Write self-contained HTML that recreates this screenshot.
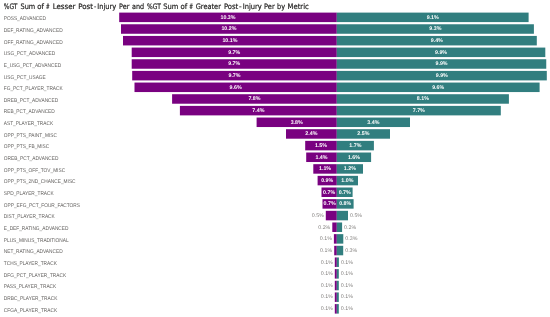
<!DOCTYPE html>
<html><head><meta charset="utf-8"><style>
html,body{margin:0;padding:0;background:#fff;width:550px;height:317px;overflow:hidden}
svg{display:block;text-rendering:geometricPrecision}

.t{font-family:"DejaVu Sans",sans-serif;fill:#252423;stroke:#252423;stroke-width:0.2}
.c{font-family:"Liberation Sans",sans-serif;fill:#605e5c}
.d{font-family:"Liberation Sans",sans-serif;font-weight:bold;fill:#fff}
.o{font-family:"Liberation Sans",sans-serif;fill:#807e7c}
</style></head><body><div>
<svg width="550" height="317" viewBox="0 0 550 317">
<g class="t" font-size="7.5"><text x="3.80" y="9.1" textLength="13.70" lengthAdjust="spacingAndGlyphs">%GT</text><text x="20.50" y="9.1" textLength="14.70" lengthAdjust="spacingAndGlyphs">Sum</text><text x="37.30" y="9.1" textLength="6.70" lengthAdjust="spacingAndGlyphs">of</text><text x="46.10" y="9.1" textLength="3.60" lengthAdjust="spacingAndGlyphs">#</text><text x="52.70" y="9.1" textLength="22.70" lengthAdjust="spacingAndGlyphs">Lesser</text><text x="78.30" y="9.1" textLength="14.70" lengthAdjust="spacingAndGlyphs">Post</text><text x="94.00" y="9.1" textLength="2.30" lengthAdjust="spacingAndGlyphs">-</text><text x="97.20" y="9.1" textLength="19.00" lengthAdjust="spacingAndGlyphs">Injury</text><text x="119.00" y="9.1" textLength="10.30" lengthAdjust="spacingAndGlyphs">Per</text><text x="132.00" y="9.1" textLength="12.20" lengthAdjust="spacingAndGlyphs">and</text><text x="147.00" y="9.1" textLength="13.90" lengthAdjust="spacingAndGlyphs">%GT</text><text x="163.30" y="9.1" textLength="15.10" lengthAdjust="spacingAndGlyphs">Sum</text><text x="180.60" y="9.1" textLength="6.70" lengthAdjust="spacingAndGlyphs">of</text><text x="189.30" y="9.1" textLength="3.80" lengthAdjust="spacingAndGlyphs">#</text><text x="195.70" y="9.1" textLength="25.20" lengthAdjust="spacingAndGlyphs">Greater</text><text x="223.90" y="9.1" textLength="14.30" lengthAdjust="spacingAndGlyphs">Post</text><text x="239.10" y="9.1" textLength="2.60" lengthAdjust="spacingAndGlyphs">-</text><text x="242.70" y="9.1" textLength="19.10" lengthAdjust="spacingAndGlyphs">Injury</text><text x="264.10" y="9.1" textLength="10.50" lengthAdjust="spacingAndGlyphs">Per</text><text x="277.00" y="9.1" textLength="8.00" lengthAdjust="spacingAndGlyphs">by</text><text x="287.60" y="9.1" textLength="21.20" lengthAdjust="spacingAndGlyphs">Metric</text></g>
<text class="c" transform="translate(3.8,20.20) scale(0.887,1)" font-size="5.4">POSS_ADVANCED</text>
<rect x="119.20" y="12.60" width="217.60" height="9.5" fill="#790180"/>
<rect x="336.80" y="12.60" width="191.80" height="9.5" fill="#317e7f"/>
<text class="d" x="228.00" y="18.65" font-size="5.3" text-anchor="middle">10.3%</text>
<text class="d" x="432.70" y="18.65" font-size="5.3" text-anchor="middle">9.1%</text>
<text class="c" transform="translate(3.8,31.86) scale(0.887,1)" font-size="5.4">DEF_RATING_ADVANCED</text>
<rect x="121.00" y="24.26" width="215.80" height="9.5" fill="#790180"/>
<rect x="336.80" y="24.26" width="197.10" height="9.5" fill="#317e7f"/>
<text class="d" x="228.90" y="30.31" font-size="5.3" text-anchor="middle">10.2%</text>
<text class="d" x="435.35" y="30.31" font-size="5.3" text-anchor="middle">9.3%</text>
<text class="c" transform="translate(3.8,43.52) scale(0.887,1)" font-size="5.4">OFF_RATING_ADVANCED</text>
<rect x="123.00" y="35.92" width="213.80" height="9.5" fill="#790180"/>
<rect x="336.80" y="35.92" width="200.00" height="9.5" fill="#317e7f"/>
<text class="d" x="229.90" y="41.97" font-size="5.3" text-anchor="middle">10.1%</text>
<text class="d" x="436.80" y="41.97" font-size="5.3" text-anchor="middle">9.4%</text>
<text class="c" transform="translate(3.8,55.18) scale(0.887,1)" font-size="5.4">USG_PCT_ADVANCED</text>
<rect x="131.70" y="47.58" width="205.10" height="9.5" fill="#790180"/>
<rect x="336.80" y="47.58" width="208.50" height="9.5" fill="#317e7f"/>
<text class="d" x="234.25" y="53.63" font-size="5.3" text-anchor="middle">9.7%</text>
<text class="d" x="441.05" y="53.63" font-size="5.3" text-anchor="middle">9.9%</text>
<text class="c" transform="translate(3.8,66.84) scale(0.887,1)" font-size="5.4">E_USG_PCT_ADVANCED</text>
<rect x="131.70" y="59.24" width="205.10" height="9.5" fill="#790180"/>
<rect x="336.80" y="59.24" width="209.45" height="9.5" fill="#317e7f"/>
<text class="d" x="234.25" y="65.29" font-size="5.3" text-anchor="middle">9.7%</text>
<text class="d" x="441.52" y="65.29" font-size="5.3" text-anchor="middle">9.9%</text>
<text class="c" transform="translate(3.8,78.50) scale(0.887,1)" font-size="5.4">USG_PCT_USAGE</text>
<rect x="132.20" y="70.90" width="204.60" height="9.5" fill="#790180"/>
<rect x="336.80" y="70.90" width="210.00" height="9.5" fill="#317e7f"/>
<text class="d" x="234.50" y="76.95" font-size="5.3" text-anchor="middle">9.7%</text>
<text class="d" x="441.80" y="76.95" font-size="5.3" text-anchor="middle">9.9%</text>
<text class="c" transform="translate(3.8,90.16) scale(0.887,1)" font-size="5.4">FG_PCT_PLAYER_TRACK</text>
<rect x="134.50" y="82.56" width="202.30" height="9.5" fill="#790180"/>
<rect x="336.80" y="82.56" width="202.80" height="9.5" fill="#317e7f"/>
<text class="d" x="235.65" y="88.61" font-size="5.3" text-anchor="middle">9.6%</text>
<text class="d" x="438.20" y="88.61" font-size="5.3" text-anchor="middle">9.6%</text>
<text class="c" transform="translate(3.8,101.82) scale(0.887,1)" font-size="5.4">DREB_PCT_ADVANCED</text>
<rect x="172.10" y="94.22" width="164.70" height="9.5" fill="#790180"/>
<rect x="336.80" y="94.22" width="172.10" height="9.5" fill="#317e7f"/>
<text class="d" x="254.45" y="100.27" font-size="5.3" text-anchor="middle">7.8%</text>
<text class="d" x="422.85" y="100.27" font-size="5.3" text-anchor="middle">8.1%</text>
<text class="c" transform="translate(3.8,113.48) scale(0.887,1)" font-size="5.4">REB_PCT_ADVANCED</text>
<rect x="179.90" y="105.88" width="156.90" height="9.5" fill="#790180"/>
<rect x="336.80" y="105.88" width="164.00" height="9.5" fill="#317e7f"/>
<text class="d" x="258.35" y="111.93" font-size="5.3" text-anchor="middle">7.4%</text>
<text class="d" x="418.80" y="111.93" font-size="5.3" text-anchor="middle">7.7%</text>
<text class="c" transform="translate(3.8,125.14) scale(0.887,1)" font-size="5.4">AST_PLAYER_TRACK</text>
<rect x="256.60" y="117.54" width="80.20" height="9.5" fill="#790180"/>
<rect x="336.80" y="117.54" width="73.20" height="9.5" fill="#317e7f"/>
<text class="d" x="296.70" y="123.59" font-size="5.3" text-anchor="middle">3.8%</text>
<text class="d" x="373.40" y="123.59" font-size="5.3" text-anchor="middle">3.4%</text>
<text class="c" transform="translate(3.8,136.80) scale(0.887,1)" font-size="5.4">OPP_PTS_PAINT_MISC</text>
<rect x="286.00" y="129.20" width="50.80" height="9.5" fill="#790180"/>
<rect x="336.80" y="129.20" width="53.20" height="9.5" fill="#317e7f"/>
<text class="d" x="311.40" y="135.25" font-size="5.3" text-anchor="middle">2.4%</text>
<text class="d" x="363.40" y="135.25" font-size="5.3" text-anchor="middle">2.5%</text>
<text class="c" transform="translate(3.8,148.46) scale(0.887,1)" font-size="5.4">OPP_PTS_FB_MISC</text>
<rect x="305.20" y="140.86" width="31.60" height="9.5" fill="#790180"/>
<rect x="336.80" y="140.86" width="37.10" height="9.5" fill="#317e7f"/>
<text class="d" x="321.00" y="146.91" font-size="5.3" text-anchor="middle">1.5%</text>
<text class="d" x="355.35" y="146.91" font-size="5.3" text-anchor="middle">1.7%</text>
<text class="c" transform="translate(3.8,160.12) scale(0.887,1)" font-size="5.4">OREB_PCT_ADVANCED</text>
<rect x="306.20" y="152.52" width="30.60" height="9.5" fill="#790180"/>
<rect x="336.80" y="152.52" width="34.30" height="9.5" fill="#317e7f"/>
<text class="d" x="321.50" y="158.57" font-size="5.3" text-anchor="middle">1.4%</text>
<text class="d" x="353.95" y="158.57" font-size="5.3" text-anchor="middle">1.6%</text>
<text class="c" transform="translate(3.8,171.78) scale(0.887,1)" font-size="5.4">OPP_PTS_OFF_TOV_MISC</text>
<rect x="313.30" y="164.18" width="23.50" height="9.5" fill="#790180"/>
<rect x="336.80" y="164.18" width="26.20" height="9.5" fill="#317e7f"/>
<text class="d" x="325.05" y="170.23" font-size="5.3" text-anchor="middle">1.1%</text>
<text class="d" x="349.90" y="170.23" font-size="5.3" text-anchor="middle">1.2%</text>
<text class="c" transform="translate(3.8,183.44) scale(0.887,1)" font-size="5.4">OPP_PTS_2ND_CHANCE_MISC</text>
<rect x="317.60" y="175.84" width="19.20" height="9.5" fill="#790180"/>
<rect x="336.80" y="175.84" width="21.20" height="9.5" fill="#317e7f"/>
<text class="d" x="327.20" y="181.89" font-size="5.3" text-anchor="middle">0.9%</text>
<text class="d" x="347.40" y="181.89" font-size="5.3" text-anchor="middle">1.0%</text>
<text class="c" transform="translate(3.8,195.10) scale(0.887,1)" font-size="5.4">SPD_PLAYER_TRACK</text>
<rect x="321.50" y="187.50" width="15.30" height="9.5" fill="#790180"/>
<rect x="336.80" y="187.50" width="15.80" height="9.5" fill="#317e7f"/>
<text class="d" x="329.15" y="193.55" font-size="5.3" text-anchor="middle">0.7%</text>
<text class="d" x="344.70" y="193.55" font-size="5.3" text-anchor="middle">0.7%</text>
<text class="c" transform="translate(3.8,206.76) scale(0.887,1)" font-size="5.4">OPP_EFG_PCT_FOUR_FACTORS</text>
<rect x="322.50" y="199.16" width="14.30" height="9.5" fill="#790180"/>
<rect x="336.80" y="199.16" width="16.80" height="9.5" fill="#317e7f"/>
<text class="d" x="329.65" y="205.21" font-size="5.3" text-anchor="middle">0.7%</text>
<text class="d" x="345.20" y="205.21" font-size="5.3" text-anchor="middle">0.8%</text>
<text class="c" transform="translate(3.8,218.42) scale(0.887,1)" font-size="5.4">DIST_PLAYER_TRACK</text>
<rect x="325.80" y="210.82" width="11.00" height="9.5" fill="#790180"/>
<rect x="336.80" y="210.82" width="11.20" height="9.5" fill="#317e7f"/>
<text class="o" x="323.80" y="216.87" font-size="5.3" text-anchor="end">0.5%</text>
<text class="o" x="350.00" y="216.87" font-size="5.3">0.5%</text>
<text class="c" transform="translate(3.8,230.08) scale(0.887,1)" font-size="5.4">E_DEF_RATING_ADVANCED</text>
<rect x="332.30" y="222.48" width="4.50" height="9.5" fill="#790180"/>
<rect x="336.80" y="222.48" width="5.30" height="9.5" fill="#317e7f"/>
<text class="o" x="330.30" y="228.53" font-size="5.3" text-anchor="end">0.2%</text>
<text class="o" x="344.10" y="228.53" font-size="5.3">0.2%</text>
<text class="c" transform="translate(3.8,241.74) scale(0.887,1)" font-size="5.4">PLUS_MINUS_TRADITIONAL</text>
<rect x="333.90" y="234.14" width="2.90" height="9.5" fill="#790180"/>
<rect x="336.80" y="234.14" width="6.50" height="9.5" fill="#317e7f"/>
<text class="o" x="331.90" y="240.19" font-size="5.3" text-anchor="end">0.1%</text>
<text class="o" x="345.30" y="240.19" font-size="5.3">0.3%</text>
<text class="c" transform="translate(3.8,253.40) scale(0.887,1)" font-size="5.4">NET_RATING_ADVANCED</text>
<rect x="334.20" y="245.80" width="2.60" height="9.5" fill="#790180"/>
<rect x="336.80" y="245.80" width="6.40" height="9.5" fill="#317e7f"/>
<text class="o" x="332.20" y="251.85" font-size="5.3" text-anchor="end">0.1%</text>
<text class="o" x="345.20" y="251.85" font-size="5.3">0.3%</text>
<text class="c" transform="translate(3.8,265.06) scale(0.887,1)" font-size="5.4">TCHS_PLAYER_TRACK</text>
<rect x="334.80" y="257.46" width="2.00" height="9.5" fill="#790180"/>
<rect x="336.80" y="257.46" width="2.10" height="9.5" fill="#317e7f"/>
<text class="o" x="332.80" y="263.51" font-size="5.3" text-anchor="end">0.1%</text>
<text class="o" x="340.90" y="263.51" font-size="5.3">0.1%</text>
<text class="c" transform="translate(3.8,276.72) scale(0.887,1)" font-size="5.4">DFG_PCT_PLAYER_TRACK</text>
<rect x="334.80" y="269.12" width="2.00" height="9.5" fill="#790180"/>
<rect x="336.80" y="269.12" width="2.00" height="9.5" fill="#317e7f"/>
<text class="o" x="332.80" y="275.17" font-size="5.3" text-anchor="end">0.1%</text>
<text class="o" x="340.80" y="275.17" font-size="5.3">0.1%</text>
<text class="c" transform="translate(3.8,288.38) scale(0.887,1)" font-size="5.4">PASS_PLAYER_TRACK</text>
<rect x="334.80" y="280.78" width="2.00" height="9.5" fill="#790180"/>
<rect x="336.80" y="280.78" width="2.00" height="9.5" fill="#317e7f"/>
<text class="o" x="332.80" y="286.83" font-size="5.3" text-anchor="end">0.1%</text>
<text class="o" x="340.80" y="286.83" font-size="5.3">0.1%</text>
<text class="c" transform="translate(3.8,300.04) scale(0.887,1)" font-size="5.4">DRBC_PLAYER_TRACK</text>
<rect x="334.80" y="292.44" width="2.00" height="9.5" fill="#790180"/>
<rect x="336.80" y="292.44" width="2.00" height="9.5" fill="#317e7f"/>
<text class="o" x="332.80" y="298.49" font-size="5.3" text-anchor="end">0.1%</text>
<text class="o" x="340.80" y="298.49" font-size="5.3">0.1%</text>
<text class="c" transform="translate(3.8,311.70) scale(0.887,1)" font-size="5.4">CFGA_PLAYER_TRACK</text>
<rect x="334.80" y="304.10" width="2.00" height="9.5" fill="#790180"/>
<rect x="336.80" y="304.10" width="2.00" height="9.5" fill="#317e7f"/>
<text class="o" x="332.80" y="310.15" font-size="5.3" text-anchor="end">0.1%</text>
<text class="o" x="340.80" y="310.15" font-size="5.3">0.1%</text>
</svg></div>
</body></html>
